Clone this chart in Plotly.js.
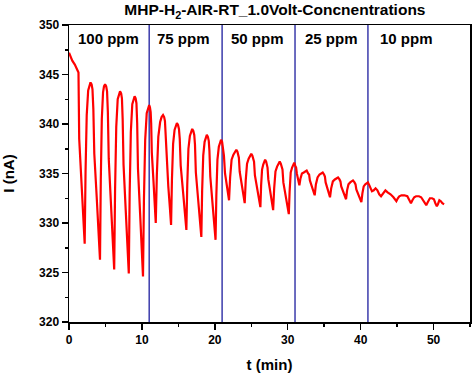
<!DOCTYPE html>
<html>
<head>
<meta charset="utf-8">
<script src="https://cdn.plot.ly/plotly-3.0.1.min.js"></script>
<style>html,body{margin:0;padding:0;background:#fff;}#chart{width:474px;height:373px;}</style>
</head>
<body>
<div id="chart"></div>
<script>
// time (min)
const timeMin = [
0,0.2,0.45,0.8,1.1,1.3,1.4,1.65,1.85,2.0,2.15,
2.27,2.43,2.63,2.8,2.95,3.1,3.22,3.34,3.47,3.8,4.06,4.25,
4.36,4.5,4.67,4.8,4.95,5.1,5.22,5.33,5.45,5.76,6.01,6.2,
6.32,6.48,6.68,6.85,7.0,7.15,7.26,7.36,7.48,7.78,8.02,8.2,
8.32,8.48,8.68,8.85,9.0,9.14,9.25,9.35,9.46,9.75,9.98,10.15,
10.28,10.45,10.66,10.85,11.0,11.1,11.2,11.27,11.36,11.59,11.77,11.9,
12.05,12.25,12.5,12.7,12.9,13.05,13.16,13.23,13.34,13.62,13.84,14.0,
14.12,14.28,14.48,14.65,14.8,14.95,15.08,15.19,15.32,15.65,15.9,16.1,
16.22,16.38,16.58,16.75,16.9,17.05,17.18,17.28,17.4,17.71,17.96,18.15,
18.26,18.41,18.6,18.75,18.9,19.05,19.17,19.26,19.38,19.68,19.92,20.1,
20.21,20.36,20.55,20.7,20.85,21.0,21.12,21.25,21.4,21.6,21.8,21.95,
22.1,22.3,22.55,22.75,22.95,23.1,23.22,23.3,23.41,23.7,23.93,24.1,
24.24,24.42,24.64,24.82,25.0,25.15,25.28,25.38,25.5,25.81,26.06,26.25,
26.35,26.48,26.64,26.77,26.9,27.04,27.15,27.23,27.34,27.62,27.84,28.0,
28.14,28.32,28.54,28.72,28.9,29.05,29.18,29.28,29.4,29.71,29.96,30.15,
30.26,30.41,30.6,30.75,30.9,31.03,31.15,31.25,31.4,31.5,31.6,
31.75,31.95,32.2,32.6,32.8,32.93,33.04,33.32,33.54,33.7,
33.86,34.09,34.36,34.8,34.98,35.1,35.2,35.45,35.65,35.8,
35.96,36.19,36.46,36.9,37.1,37.23,37.34,37.62,37.84,38.0,
38.14,38.33,38.57,38.95,39.16,39.3,39.41,39.7,39.93,40.1,
40.24,40.42,40.64,41.0,
41.2,41.4,41.55,41.8,42.05,42.3,42.55,42.8,43.0,43.2,43.4,43.7,44.1,44.5,44.9,
45.1,45.3,45.6,46.0,46.4,46.65,46.9,47.1,47.35,47.6,48.0,48.3,48.6,49.0,
49.2,49.5,49.8,50.05,50.25,50.45,50.6,50.8,51.0,51.2,51.45
];
// current (nA)
const currentNA = [
347.2,346.8,346.4,346.0,345.6,345.2,338.5,335.0,332.0,330.0,327.9,
335.2,340.9,343.4,344.0,344.2,344.0,343.5,341.5,337.0,332.6,329.0,326.3,
334.3,340.5,343.2,343.8,344.0,343.8,343.3,341.2,336.5,331.8,328.1,325.3,
333.4,339.7,342.5,343.1,343.3,343.1,342.6,340.5,335.9,331.3,327.7,324.9,
333.0,339.2,342.0,342.6,342.8,342.6,342.1,340.1,335.5,331.0,327.3,324.6,
332.4,338.4,341.1,341.7,341.9,341.7,341.2,340.1,337.1,334.2,331.8,330.0,
334.9,338.7,340.2,340.7,340.9,340.7,340.3,339.2,336.5,333.7,331.5,329.8,
334.4,338.0,339.4,339.9,340.1,339.9,339.5,338.5,335.8,333.1,330.9,329.3,
333.9,337.5,338.8,339.3,339.5,339.3,338.9,337.9,335.1,332.4,330.2,328.6,
333.2,336.8,338.2,338.7,338.9,338.7,338.3,337.3,334.7,332.0,329.9,328.3,
332.8,336.4,337.7,338.2,338.4,338.2,337.7,336.8,335.0,333.8,332.9,332.3,
334.6,336.4,336.9,337.2,337.4,337.2,336.9,336.6,335.2,333.9,332.8,332.0,
334.3,336.0,336.5,336.8,337.0,336.8,336.5,336.2,334.8,333.5,332.4,331.6,
333.8,335.4,335.9,336.2,336.4,336.2,335.9,335.6,334.4,333.1,332.1,331.3,
333.5,335.2,335.7,336.0,336.2,336.0,335.7,335.4,334.1,332.8,331.7,330.9,
333.2,335.1,335.6,335.9,336.1,335.8,335.6,335.0,334.6,334.1,333.8,
334.5,335.0,335.1,335.3,335.0,334.9,334.3,333.7,333.2,332.8,
333.9,334.6,334.9,335.1,334.9,334.7,334.1,333.5,333.0,332.6,
333.5,334.2,334.4,334.6,334.4,334.2,333.7,333.2,332.7,332.4,
333.3,333.9,334.1,334.3,334.1,333.9,333.4,332.9,332.4,332.1,
333.0,333.7,333.9,334.1,
333.8,333.4,333.2,333.3,333.5,333.3,332.9,332.7,332.9,333.2,333.3,333.1,332.9,332.6,332.2,
332.5,332.7,332.8,332.8,332.7,332.3,332.0,332.3,332.6,332.7,332.7,332.6,332.2,331.8,
332.1,332.5,332.5,332.4,332.0,331.7,331.9,332.3,332.2,332.0,331.9
];
// concentration change times (min) and labels
const switchTimes = [11, 21, 31, 41];
const concLabels = ['100 ppm', '75 ppm', '50 ppm', '25 ppm', '10 ppm'];
const labelTimes = [5.4, 15.7, 25.8, 36.0, 46.3];
const labelLevel = 348.6;
const yLimits = [320, 350];
const xLimits = [0, 55];

const traces = [];
switchTimes.forEach(t => {
  traces.push({x: [t, t], y: yLimits, mode: 'lines', line: {color: '#3b3bab', width: 1.5}, hoverinfo: 'skip', showlegend: false});
});
traces.push({x: timeMin, y: currentNA, mode: 'lines', line: {color: '#ff0000', width: 2.2}, showlegend: false});

const fontBold = (size) => ({family: 'Liberation Sans, Arial', size: size, color: '#000', weight: 'bold'});

const annotations = concLabels.map((s, i) => ({
  x: labelTimes[i], y: labelLevel, xref: 'x', yref: 'y', text: s, showarrow: false,
  font: fontBold(15), xanchor: 'center', yanchor: 'middle'
}));

const axisCommon = {
  showgrid: false, zeroline: false, showline: true, mirror: true,
  linecolor: '#000', linewidth: 1.5, ticks: 'outside', ticklen: 6, tickwidth: 1.5, tickcolor: '#000',
  tickfont: fontBold(12)
};

const layout = {
  width: 474, height: 373,
  margin: {l: 69, r: 4, t: 25, b: 51},
  paper_bgcolor: '#fff', plot_bgcolor: '#fff',
  title: {text: 'MHP-H<sub>2</sub>-AIR-RT_1.0Volt-Concnentrations', xref: 'container', x: 0.58, xanchor: 'center', yref: 'container', y: 0.988, yanchor: 'top',
    font: fontBold(15.5)},
  xaxis: Object.assign({}, axisCommon, {range: xLimits, dtick: 10, tick0: 0,
    minor: {dtick: 5, ticklen: 3, tickwidth: 1.5, tickcolor: '#000', ticks: 'outside'},
    title: {text: 't (min)', standoff: 13, font: fontBold(15)}}),
  yaxis: Object.assign({}, axisCommon, {range: yLimits, dtick: 5, tick0: 320,
    minor: {dtick: 2.5, ticklen: 3, tickwidth: 1.5, tickcolor: '#000', ticks: 'outside'},
    title: {text: 'I (nA)', standoff: 21, font: fontBold(15)}}),
  annotations: annotations
};

Plotly.newPlot('chart', traces, layout, {displayModeBar: false, staticPlot: true});
</script>
</body>
</html>
